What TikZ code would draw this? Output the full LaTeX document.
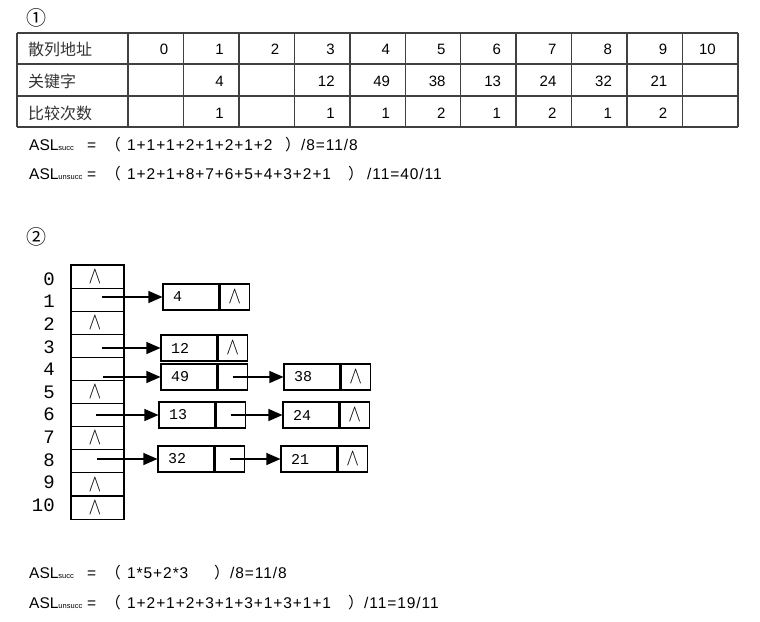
\documentclass[tikz,border=0pt]{standalone}
\usepackage{fontspec}
\setmainfont{Liberation Sans}
\newfontfamily\cjkfont{Noto Sans CJK SC}
\newfontfamily\monofont{Liberation Mono}
\newfontfamily\seqfont[LetterSpace=6]{Liberation Sans}
\usetikzlibrary{arrows.meta,positioning,calc}
\newcommand{\nilsym}{\scalebox{1.1}[1.4]{$\wedge$}}

\begin{document}
\begin{tikzpicture}[x=1pt,y=-1pt,
    tline/.style={draw=black!75, line width=1.4pt},
    cell/.style={font=\fontsize{15}{17}\selectfont, anchor=east, inner sep=0pt},
    head/.style={font=\cjkfont\fontsize{16}{18}\selectfont, text=black!80, anchor=west, inner sep=0pt},
    asl/.style={font=\fontsize{15.5}{18}\selectfont, anchor=base west, inner sep=0pt},
    seq/.style={asl, font=\seqfont\fontsize{15.5}{18}\selectfont},
    paren/.style={font=\cjkfont\fontsize{15.5}{18}\selectfont, inner sep=0pt},
    circ/.style={font=\cjkfont\fontsize{20}{22}\selectfont, inner sep=0pt},
    idx/.style={font=\monofont\fontsize{19}{21}\selectfont, anchor=east, inner sep=0pt},
    nil/.style={font=\fontsize{17}{17}\selectfont, inner sep=0pt},
    slot/.style={draw, line width=1.1pt, minimum width=53pt, minimum height=23.1pt, inner sep=0pt},
    dat/.style={draw, line width=1.1pt, minimum width=56pt, minimum height=26pt, text width=36pt,
                align=left, inner xsep=10pt, inner ysep=0pt, font=\monofont\fontsize{15}{17}\selectfont},
    ptr/.style={draw, line width=1.1pt, minimum width=29pt, minimum height=26pt, inner sep=0pt,
                font=\fontsize{17}{17}\selectfont},
    link/.style={line width=1.1pt, -{Triangle[length=14pt,width=12pt]}}]
  \useasboundingbox (0,0) rectangle (760,621);

  % Part 1: linear probing table
  \node[circ] (c1) at (37,18) {①};
  \foreach \y in {33,64,96,127}
    \draw[tline] (17,\y) -- (738,\y);
  \draw[tline] (17,33) -- (17,127);
  \foreach \k in {0,...,11}
    \draw[tline] ({128+55.45*\k},33) -- ++(0,94);
  \node[head] (h1) at (28,49) {散列地址};
  \node[head] (h2) at (28,81) {关键字};
  \node[head] (h3) at (28,113) {比较次数};
  \foreach \k in {0,...,9}
    \node[cell] (a\k) at ({128+55.45*(\k+1)-15},49) {\k};
  \node[cell] (a10) at (716,49) {10};
  \foreach \k/\v in {1/4,3/12,4/49,5/38,6/13,7/24,8/32,9/21}
    \node[cell] (k\k) at ({128+55.45*(\k+1)-15},81) {\v};
  \foreach \k/\v in {1/1,3/1,4/1,5/2,6/1,7/2,8/1,9/2}
    \node[cell] (m\k) at ({128+55.45*(\k+1)-15},113) {\v};

  \node[asl] (u1) at (29,150) {ASL{\fontsize{7.5}{8}\selectfont succ}};
  \node[asl] (u2) at (87,150) {=};
  \node[paren, anchor=base east] (u3) at (121,150) {（};
  \node[seq] (u4) at (127,150) {1+1+1+2+1+2+1+2};
  \node[paren, anchor=base west] (u5) at (285,150) {）};
  \node[seq] (u6) at (301,150) {/8=11/8};

  \node[asl] (v1) at (29,179) {ASL{\fontsize{7.5}{8}\selectfont unsucc}};
  \node[asl] (v2) at (87,179) {=};
  \node[paren, anchor=base east] (v3) at (121,179) {（};
  \node[seq] (v4) at (127,179) {1+2+1+8+7+6+5+4+3+2+1};
  \node[paren, anchor=base west] (v5) at (348,179) {）};
  \node[seq] (v6) at (367,179) {/11=40/11};

  % Part 2: separate chaining
  \node[circ] (c2) at (37,237) {②};
  \foreach \k in {0,...,10} {
    \node[slot] (i\k) at (97.5,{265+23.1*(\k+0.5)}) {};
    \node[idx] (n\k) at (55,{279+22.6*\k}) {\k};
  }
  \foreach \k in {0,2,5,7,9,10}
    \node[nil] (z\k) at ([xshift=-2.5pt]i\k.center) {\nilsym};

  \node[dat] (d4) at (191,297) {4};
  \node[ptr, right=0pt of d4] (p4) {\nilsym};
  \node[dat] (d12) at (189,348) {12};
  \node[ptr, right=0pt of d12] (p12) {\nilsym};
  \node[dat] (d49) at (189,377) {49};
  \node[ptr, right=0pt of d49] (p49) {};
  \node[dat] (d38) at (312,377) {38};
  \node[ptr, right=0pt of d38] (p38) {\nilsym};
  \node[dat] (d13) at (187,415) {13};
  \node[ptr, right=0pt of d13] (p13) {};
  \node[dat] (d24) at (311,415) {24};
  \node[ptr, right=0pt of d24] (p24) {\nilsym};
  \node[dat] (d32) at (186,459) {32};
  \node[ptr, right=0pt of d32] (p32) {};
  \node[dat] (d21) at (309,459) {21};
  \node[ptr, right=0pt of d21] (p21) {\nilsym};

  \coordinate (s1) at (102,297);
  \coordinate (s3) at (102,348);
  \coordinate (s4) at (103,377);
  \coordinate (s6) at (96,415);
  \coordinate (s8) at (97,459);
  \draw[link] (s1) -- (s1 -| d4.west);
  \draw[link] (s3) -- (s3 -| d12.west);
  \draw[link] (s4) -- (s4 -| d49.west);
  \draw[link] (s6) -- (s6 -| d13.west);
  \draw[link] (s8) -- (s8 -| d32.west);
  \draw[link] (p49.center) -- (d38.west);
  \draw[link] (p13.center) -- (d24.west);
  \draw[link] (p32.center) -- (d21.west);

  \node[asl] (w1) at (29,578) {ASL{\fontsize{7.5}{8}\selectfont succ}};
  \node[asl] (w2) at (87,578) {=};
  \node[paren, anchor=base east] (w3) at (121,578) {（};
  \node[seq] (w4) at (127,578) {1*5+2*3};
  \node[paren, anchor=base west] (w5) at (214,578) {）};
  \node[seq] (w6) at (230,578) {/8=11/8};

  \node[asl] (x1) at (29,608) {ASL{\fontsize{7.5}{8}\selectfont unsucc}};
  \node[asl] (x2) at (87,608) {=};
  \node[paren, anchor=base east] (x3) at (121,608) {（};
  \node[seq] (x4) at (127,608) {1+2+1+2+3+1+3+1+3+1+1};
  \node[paren, anchor=base west] (x5) at (348,608) {）};
  \node[seq] (x6) at (364,608) {/11=19/11};
\end{tikzpicture}
\end{document}
